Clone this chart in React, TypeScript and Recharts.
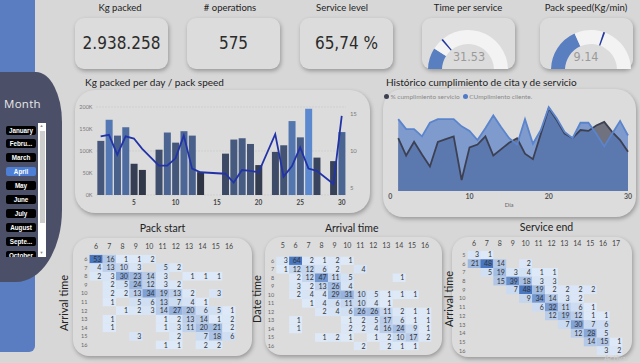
import React from 'react';
import {
  ComposedChart, Bar, Line, Area, XAxis, YAxis, CartesianGrid, Cell, Legend,
  ScatterChart, Scatter, PieChart, Pie,
} from 'recharts';

// ---------- DATA ----------
const days = [1,2,3,4,5,6,7,8,9,10,11,12,13,14,15,16,17,18,19,20,21,22,23,24,25,26,27,28,29,30];
const kgPacked = [123000,171000,135000,154000,71000,57000,null,103000,142000,119000,145000,135000,52000,null,null,94000,126000,129000,116000,68000,null,98000,113000,168000,131000,196000,85000,null,77000,143000];
const packSpeed = [12.0,12.2,9.5,12.0,11.7,10.3,null,8.0,8.0,9.0,12.1,7.6,7.1,null,null,6.9,5.7,7.4,7.3,7.1,null,12.3,6.5,7.9,10.5,7.6,7.3,null,5.5,14.8];
const kgTicks = [0,50000,100000,150000,200000];
const speedTicks = [5,10,15];
const dayTicks = [5,10,15,20,25,30];

const serviceCompliance = [58,39,54,40,27,54,57,60,12,48,51,60,39,46,53,58,41,35,63,91,78,63,58,67,66,72,76,65,56,43];
const clientCompliance = [79,68,68,60,75,79,79,79,71,66,56,69,83,70,58,51,79,52,67,92,80,65,58,75,75,63,49,63,77,61];
const areaTicks = [0,10,20,30];
const legendNames = ['% cumplimiento servicio','CUmplimiento cliente.'];

const kpiLabels = ['Kg packed','# operations','Service level'];
const kpiValues = ['2.938.258','575','65,74 %'];
const gaugeLabels = ['Time per service','Pack speed(Kg/min)'];
const gaugeValues = [31.53, 9.14];
const gaugeMax = [175, 25];
const gaugeTargets = [47, 15];

const months = ['January','Febru...','March','April','May','June','July','August','Septe...','October'];
const selectedMonth = 'April';

const n = null;
const packStartRows = [6,7,8,9,10,11,12,13,14,15,16];
const packStartCols = [6,7,8,9,10,11,12,13,14,15,16];
const packStartValues = [
  [53,16,1,1,2,n,n,n,n,n,n],
  [4,13,10,3,n,5,2,n,n,n,n],
  [2,3,30,23,14,3,n,1,1,1,n],
  [n,2,5,24,12,3,2,n,n,n,n],
  [n,2,2,13,34,19,13,2,n,3,n],
  [n,1,n,5,6,13,7,4,1,n,n],
  [n,n,1,2,3,14,27,20,6,5,1],
  [n,1,n,n,n,1,2,13,14,1,2],
  [n,1,n,n,n,1,3,11,20,21,2],
  [n,n,n,3,n,n,2,n,7,18,6],
  [n,n,n,n,n,1,1,n,2,2,n],
];
const arrivalRows = [6,7,8,9,10,11,12,13,14,15,16];
const arrivalCols = [5,6,7,8,9,10,11,12,13,14,15,16];
const arrivalValues = [
  [3,64,2,1,2,1,n,n,n,n,n,n],
  [1,12,12,6,2,n,4,n,n,n,n,n],
  [n,2,12,47,11,5,n,n,n,1,n,n],
  [n,3,2,13,26,4,n,n,n,n,n,n],
  [n,2,4,4,29,31,10,5,1,1,1,n],
  [n,n,1,4,6,11,10,4,1,n,n,n],
  [n,n,n,2,4,6,26,26,11,2,1,1],
  [n,1,n,n,n,1,2,5,17,6,1,1],
  [n,1,n,n,n,2,2,4,16,24,9,1],
  [n,n,n,1,2,1,n,1,2,10,17,2],
  [n,n,n,n,n,n,2,n,2,1,1,n],
];
const serviceEndRows = [5,6,7,8,9,10,11,12,13,14,15,16];
const serviceEndCols = [6,7,8,9,10,11,12,13,14,15,16,17];
const serviceEndValues = [
  [3,1,n,n,n,n,n,n,n,n,n,n],
  [21,48,14,n,2,n,n,n,n,n,n,n],
  [n,5,19,3,4,1,1,n,n,n,n,n],
  [n,n,15,39,18,3,3,n,n,n,n,n],
  [n,n,n,7,48,19,2,2,2,2,n,n],
  [n,n,n,n,9,34,14,3,2,n,n,n],
  [n,n,n,n,n,6,32,11,6,1,n,n],
  [n,n,n,n,n,n,12,19,12,1,1,n],
  [n,n,n,n,n,n,n,7,30,7,6,n],
  [n,n,n,n,n,n,n,n,12,28,5,n],
  [n,n,n,n,n,n,n,n,n,14,15,1],
  [n,n,n,n,n,n,n,n,n,n,3,2],
];

// ---------- STYLE HELPERS ----------
const UI = "Lato, 'Open Sans', sans-serif";
const NUM = "'DejaVu Sans Condensed', 'Liberation Sans Narrow', sans-serif";
const CARD = '#dcdcdc';
const SHADOW = '1px 2px 4px rgba(0,0,0,0.30)';

function mix(a: number[], b: number[], t: number) {
  const c = a.map((v, i) => Math.round(v + (b[i] - v) * t));
  return `rgb(${c[0]},${c[1]},${c[2]})`;
}
function barColor(v: number) {
  const t = Math.max(0, Math.min(1, (v - 50000) / 146000));
  const dark = [46, 51, 66], mid = [69, 88, 124], light = [91, 136, 207];
  return t < 0.5 ? mix(dark, mid, t * 2) : mix(mid, light, (t - 0.5) * 2);
}
function heatColor(v: number, max: number) {
  return mix([224, 235, 249], [72, 118, 192], v / max);
}

const barData = days.map((d, i) => ({ day: d, kg: kgPacked[i], speed: packSpeed[i] }));
const areaData = days.map((d, i) => ({ dia: d, servicio: serviceCompliance[i], cliente: clientCompliance[i] }));

function toPoints(rows: number[], cols: number[], values: (number | null)[][]) {
  const pts: { x: number; y: number; v: number }[] = [];
  rows.forEach((r, i) => cols.forEach((c, j) => {
    const v = values[i][j];
    if (v !== null && v !== undefined) pts.push({ x: c, y: r, v });
  }));
  return pts;
}

const abs = (l: number, t: number, w: number, h: number): React.CSSProperties => ({
  position: 'absolute', left: l, top: t, width: w, height: h,
});

function Card({ l, t, w, h, r }: { l: number; t: number; w: number; h: number; r: number }) {
  return <div style={{ ...abs(l, t, w, h), background: CARD, borderRadius: r, boxShadow: SHADOW }} />;
}

function Title({ text, cx, cy, size, left }: { text: string; cx?: number; cy: number; size: number; left?: number }) {
  const style: React.CSSProperties = {
    position: 'absolute', top: cy - size * 0.7, fontSize: size, lineHeight: `${size * 1.4}px`,
    color: '#222', whiteSpace: 'nowrap', fontFamily: UI,
  };
  if (left !== undefined) style.left = left;
  else { style.left = (cx as number) - 100; style.width = 200; style.textAlign = 'center'; }
  return <div style={style}>{text}</div>;
}

function RotLabel({ text, cx, cy }: { text: string; cx: number; cy: number }) {
  return (
    <div style={{
      position: 'absolute', left: cx - 40, top: cy - 7, width: 80, height: 14, textAlign: 'center',
      fontSize: 11, lineHeight: '14px', color: '#222', fontFamily: UI, transform: 'rotate(-90deg)', whiteSpace: 'nowrap',
    }}>{text}</div>
  );
}

type HeatProps = {
  rows: number[]; cols: number[]; values: (number | null)[][];
  l: number; t: number; w: number; h: number;
  yw: number; xh: number; mr: number; mb: number; xtm: number;
};
function HeatMap({ rows, cols, values, l, t, w, h, yw, xh, mr, mb, xtm }: HeatProps) {
  const pts = toPoints(rows, cols, values);
  const max = Math.max(...pts.map(p => p.v));
  const cw = (w - yw - mr) / cols.length;
  const ch = (h - xh - mb) / rows.length;
  const shape = (p: any) => {
    const v = p.payload.v;
    return (
      <g>
        <rect x={p.cx - cw / 2} y={p.cy - ch / 2} width={cw} height={ch} fill={heatColor(v, max)} />
        <text x={p.cx + cw / 2 - 1.3} y={p.cy + 2.5} textAnchor="end" fontSize={7} fill="#333" fontFamily={UI}>{v}</text>
      </g>
    );
  };
  return (
    <div style={abs(l, t, w, h)}>
      <ScatterChart width={w} height={h} margin={{ top: 0, right: mr, bottom: mb, left: 0 }}>
        <XAxis type="number" dataKey="x" orientation="top" domain={[cols[0] - 0.5, cols[cols.length - 1] + 0.5]}
          ticks={cols} interval={0} height={xh} axisLine={false} tickLine={false} tickSize={0} tickMargin={xtm}
          tick={{ fontSize: 7, fill: '#444', fontFamily: UI }} allowDataOverflow />
        <YAxis type="number" dataKey="y" reversed domain={[rows[0] - 0.5, rows[rows.length - 1] + 0.5]}
          ticks={rows} interval={0} width={yw} axisLine={false} tickLine={false} tickSize={0} tickMargin={2}
          tick={{ fontSize: 5.5, fill: '#666', fontFamily: UI }} allowDataOverflow />
        <Scatter data={pts} isAnimationActive={false} shape={shape} />
      </ScatterChart>
    </div>
  );
}

function Gauge({ l, idx, cx }: { l: number; idx: number; cx: number }) {
  const v = gaugeValues[idx], max = gaugeMax[idx], tg = gaugeTargets[idx];
  const mark = max * 0.015;
  return (
    <div style={abs(l, 17.5, 93, 51)}>
      <PieChart width={93} height={51}>
        <Pie data={[{ v }, { v: max - v }]} dataKey="v" cx={cx} cy={47} startAngle={180} endAngle={0}
          innerRadius={26} outerRadius={40} stroke="none" isAnimationActive={false}>
          <Cell fill="#5a7fc1" />
          <Cell fill="#f3f3f3" />
        </Pie>
        <Pie data={[{ v: tg }, { v: mark }, { v: max - tg - mark }]} dataKey="v" cx={cx} cy={47} startAngle={180} endAngle={0}
          innerRadius={26} outerRadius={40} stroke="none" isAnimationActive={false}>
          <Cell fill="transparent" />
          <Cell fill="#2438a0" />
          <Cell fill="transparent" />
        </Pie>
      </PieChart>
    </div>
  );
}

const renderLegend = () => (
  <div style={{ display: 'flex', fontSize: 6.5, color: '#8a8a8a', whiteSpace: 'nowrap', fontFamily: UI }}>
    {legendNames.map((nm, i) => (
      <span key={nm} style={{ display: 'flex', alignItems: 'center', marginRight: 3 }}>
        <span style={{ width: 5, height: 5, borderRadius: 3, background: i === 0 ? '#3c4052' : '#4f7bc8', marginRight: 1.5, display: 'inline-block' }} />
        {nm}
      </span>
    ))}
  </div>
);

export default function App() {
  const kpiLefts = [75, 187, 300];
  const titleCenters = [120, 230, 342, 468, 586];
  return (
    <div style={{ position: 'fixed', left: 0, top: 0, width: 640, height: 363, background: '#d7d7d7', overflow: 'hidden', fontFamily: UI }}>
      {/* left side */}
      <div style={{ ...abs(0, 0, 35, 352), background: '#5a7cc0', borderBottomRightRadius: 6 }} />
      <div style={{ ...abs(0, 72, 62, 210), background: '#4b5068', borderTopRightRadius: '26px 50px', borderBottomRightRadius: '46px 72px' }} />
      <div style={{ position: 'absolute', left: 4, top: 96, fontSize: 11.5, color: '#e8e8e8', fontFamily: "'Open Sans', sans-serif", letterSpacing: 0.3 }}>Month</div>
      <div style={{ ...abs(5, 123, 41, 134), overflow: 'hidden' }}>
        {months.map((m, i) => (
          <div key={m} style={{
            position: 'absolute', left: 1, top: 2.5 + i * 13.9, width: 30, height: 9, borderRadius: 2,
            background: m === selectedMonth ? '#4d7fd6' : '#000', color: '#fff', fontSize: 6.3, fontWeight: 700,
            fontFamily: "'Liberation Sans', Arial, sans-serif", textAlign: 'center', lineHeight: '9px', whiteSpace: 'nowrap', overflow: 'hidden',
          }}>{m}</div>
        ))}
        <div style={{ ...abs(33, 0, 8, 134), background: '#fff' }} />
        <div style={{ ...abs(34.5, 8, 5, 92), background: '#cdcdcd' }} />
        <div style={{ position: 'absolute', left: 34.5, top: 0, fontSize: 4, color: '#888' }}>▲</div>
        <div style={{ position: 'absolute', left: 34.5, top: 127, fontSize: 4, color: '#888' }}>▼</div>
      </div>

      {/* KPI cards */}
      {kpiLabels.map((lab, i) => (
        <React.Fragment key={lab}>
          <Card l={kpiLefts[i]} t={17.5} w={93} h={51} r={9} />
          <div style={{ ...abs(kpiLefts[i], 17.5, 93, 51), display: 'flex', alignItems: 'center', justifyContent: 'center', fontSize: 17, color: '#2b2b2b', fontFamily: NUM }}>{kpiValues[i]}</div>
          <Title text={lab} cx={titleCenters[i]} cy={7.5} size={9.5} />
        </React.Fragment>
      ))}
      {gaugeLabels.map((lab, i) => {
        const l = i === 0 ? 422 : 540;
        return (
          <React.Fragment key={lab}>
            <Card l={l} t={17.5} w={93} h={51} r={9} />
            <Gauge l={l} idx={i} cx={i === 0 ? 41 : 46} />
            <div style={{ position: 'absolute', left: (i === 0 ? 469 : 586) - 30, top: 49, width: 60, textAlign: 'center', fontSize: 12.5, color: '#9a9a9a', fontFamily: NUM }}>{gaugeValues[i].toFixed(2)}</div>
            <Title text={lab} cx={titleCenters[3 + i]} cy={7.5} size={9.5} />
          </React.Fragment>
        );
      })}

      {/* Bar + line chart */}
      <Title text="Kg packed per day / pack speed" left={85} cy={82} size={10} />
      <Card l={75} t={90} w={295} h={123} r={20} />
      <div style={abs(75, 90, 295, 123)}>
        <ComposedChart width={295} height={123} data={barData} margin={{ top: 17, right: 0, bottom: 0, left: 0 }} barCategoryGap="10%">
          <CartesianGrid yAxisId="left" vertical={false} stroke="#c2c2c2" strokeDasharray="1 2" />
          <XAxis dataKey="day" height={18} interval={0} axisLine={false} tickLine={false} tickSize={0} tickMargin={5.5}
            tickFormatter={(d: number) => (dayTicks.includes(d) ? String(d) : '')}
            tick={{ fontSize: 6.5, fill: '#444', fontWeight: 700, fontFamily: UI }} />
          <YAxis yAxisId="left" width={21.5} domain={[0, 200000]} ticks={kgTicks} axisLine={false} tickLine={false}
            tickSize={0} tickMargin={4} tickFormatter={(v: number) => `${v / 1000}K`}
            tick={{ fontSize: 5.5, fill: '#7a7a7a', fontFamily: UI }} />
          <YAxis yAxisId="right" orientation="right" width={24.1} domain={[4, 16]} ticks={speedTicks} axisLine={false}
            tickLine={false} tickSize={0} tickMargin={4} tick={{ fontSize: 6, fill: '#7a7a7a', fontFamily: UI }} />
          <Bar yAxisId="left" dataKey="kg" isAnimationActive={false}>
            {barData.map((d) => <Cell key={d.day} fill={d.kg ? barColor(d.kg) : 'none'} />)}
          </Bar>
          <Line yAxisId="right" dataKey="speed" type="linear" stroke="#2233a8" strokeWidth={1.8} dot={false} connectNulls isAnimationActive={false} />
        </ComposedChart>
      </div>

      {/* Area chart */}
      <Title text="Histórico cumplimiento de cita y de servicio" left={386} cy={82} size={10} />
      <Card l={383} t={89} w={253} h={128} r={20} />
      <div style={abs(383, 89, 253, 128)}>
        <ComposedChart width={253} height={128} data={areaData} margin={{ top: 11, right: 8, bottom: 0, left: 7.3 }}>
          <XAxis type="number" dataKey="dia" domain={[0, 30]} ticks={areaTicks} height={26} axisLine={false} tickLine={false}
            tickSize={0} tickMargin={3.5} tick={{ fontSize: 7, fontWeight: 700, fill: '#555', fontFamily: UI }}
            label={{ value: 'Día', position: 'insideBottom', offset: 10, fontSize: 6, fill: '#666' }} />
          <YAxis hide domain={[0, 100]} />
          <Area dataKey="servicio" type="linear" fill="#70737f" fillOpacity={1} stroke="none" isAnimationActive={false} />
          <Area dataKey="cliente" type="linear" fill="#517bc6" fillOpacity={0.67} stroke="none" isAnimationActive={false} />
          <Line dataKey="servicio" type="linear" stroke="#3c4052" strokeWidth={1.8} dot={false} isAnimationActive={false} />
          <Line dataKey="cliente" type="linear" stroke="#5a84cc" strokeWidth={1.8} dot={false} isAnimationActive={false} />
          <Legend layout="horizontal" verticalAlign="middle" align="center" wrapperStyle={{ top: 4, left: 1, width: 240 }} content={renderLegend} />
        </ComposedChart>
      </div>

      {/* Heatmaps */}
      <Card l={73} t={238} w={179} h={118} r={16} />
      <Card l={265} t={237} w={177} h={118} r={16} />
      <Card l={452} t={237} w={180} h={120} r={16} />
      <Title text="Pack start" cx={162.5} cy={228.5} size={10.5} />
      <Title text="Arrival time" cx={351.7} cy={228.5} size={10.5} />
      <Title text="Service end" cx={546.5} cy={227.5} size={10.5} />
      <RotLabel text="Arrival time" cx={64} cy={303} />
      <RotLabel text="Date time" cx={257} cy={299} />
      <RotLabel text="Arrival time" cx={448.7} cy={299} />
      <HeatMap rows={packStartRows} cols={packStartCols} values={packStartValues}
        l={60} t={238} w={190} h={118} yw={29.35} xh={16.7} mr={14.35} mb={6.7} xtm={6.2} />
      <HeatMap rows={arrivalRows} cols={arrivalCols} values={arrivalValues}
        l={250} t={237} w={192} h={118} yw={26.2} xh={19.4} mr={10.5} mb={4.7} xtm={8} />
      <HeatMap rows={serviceEndRows} cols={serviceEndCols} values={serviceEndValues}
        l={440} t={236} w={196} h={121} yw={27.5} xh={14.6} mr={13.5} mb={2} xtm={4.8} />
      <div style={{ position: 'absolute', left: 604, top: 354, fontSize: 8, lineHeight: '9px', color: '#cdcdcd', fontFamily: UI }}>Activar</div>
    </div>
  );
}
